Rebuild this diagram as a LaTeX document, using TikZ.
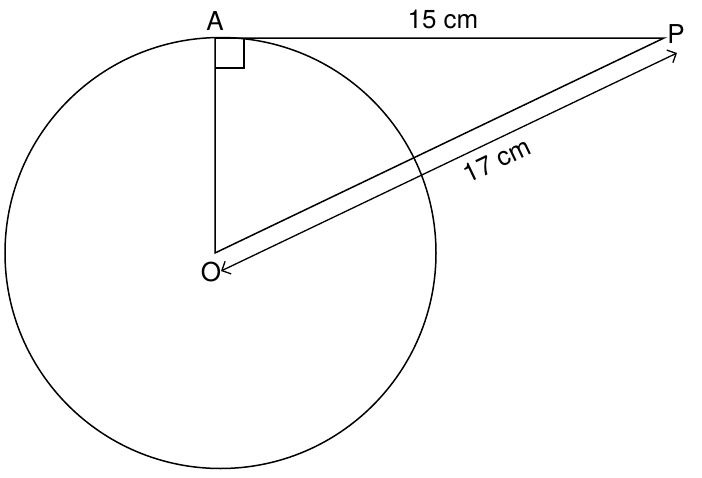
\documentclass[tikz,border=0pt]{standalone}
\usepackage{fontspec}
\setmainfont{TeX Gyre Heros}
\usetikzlibrary{arrows.meta}
\begin{document}
\begin{tikzpicture}[x=1pt,y=-1pt,line width=1.5pt,
  lbl/.style={font=\fontsize{26}{26}\selectfont,inner sep=0pt},
  dim/.style={line width=1.3pt,{Straight Barb[length=7pt,width=14pt]}-{Straight Barb[length=7pt,width=14pt]}}]
\useasboundingbox (0,0) rectangle (702,477);
\coordinate (C) at (220.5,253);
\coordinate (O) at (215,253);
\coordinate (A) at (215,38);
\coordinate (P) at (664,38);
\coordinate (d1) at (221,271);
\coordinate (d2) at (677,53);
\draw (C) circle[radius=215.5];
\draw (A) -- (O) -- (P) -- (A);
\draw[line width=1.2pt] (215,68) -- (244,68) -- (244,38);
\draw[dim] (d1) -- (d2);
\node[lbl] (lA) at (215,21) {A};
\node[lbl] (lP) at (676,34) {P};
\node[lbl] (lO) at (211,272) {O};
\node[lbl] (l15) at (443,19) {15 cm};
\node[lbl,rotate=25.6] (l17) at (497,160) {17 cm};
\end{tikzpicture}
\end{document}
